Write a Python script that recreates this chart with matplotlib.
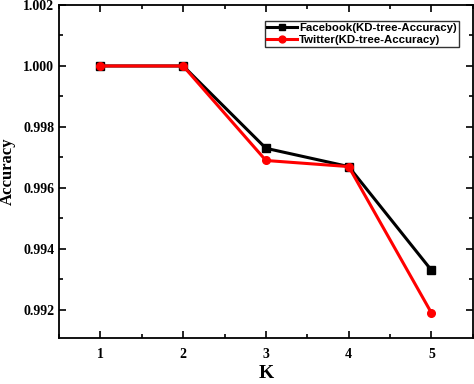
import matplotlib
matplotlib.use("Agg")
import matplotlib.pyplot as plt
from matplotlib.ticker import MultipleLocator

K = [1, 2, 3, 4, 5]
facebook = [1.0000, 1.0000, 0.9973, 0.9967, 0.9933]
twitter = [1.0000, 1.0000, 0.9969, 0.9967, 0.9919]
yticks = [0.992, 0.994, 0.996, 0.998, 1.000, 1.002]

fig = plt.figure(figsize=(4.74, 3.84), dpi=100)
ax = fig.add_axes([0.1245, 0.12, 0.873, 0.867])

ax.plot(K, facebook, color="black", lw=2.2, marker="s", ms=5.5,
        label="Facebook(KD-tree-Accuracy)")
ax.plot(K, twitter, color="#ff0000", lw=2.2, marker="o", ms=5.5,
        label="Twitter(KD-tree-Accuracy)")

ax.set_xlim(0.5, 5.5)
ax.set_ylim(0.99108, 1.002)
ax.set_xticks(K)
ax.set_yticks(yticks)
ax.set_yticklabels([f"{v:.3f}" for v in yticks])
ax.xaxis.set_minor_locator(MultipleLocator(0.5))
ax.yaxis.set_minor_locator(MultipleLocator(0.001))
ax.tick_params(which="both", direction="in", top=True, right=True, width=1.2)
ax.tick_params(which="major", length=5)
ax.tick_params(which="minor", length=3)
for s in ax.spines.values():
    s.set_linewidth(1.3)

for lab in ax.get_xticklabels() + ax.get_yticklabels():
    lab.set_fontfamily("Liberation Serif")
    lab.set_fontweight("bold")
    lab.set_fontsize(10)
ax.tick_params(axis="x", pad=7)

ax.set_xlabel("K", fontfamily="Liberation Serif", fontweight="bold", fontsize=14, labelpad=3)
ax.set_ylabel("Accuracy", fontfamily="Liberation Serif", fontweight="bold", fontsize=12, labelpad=5)

leg = ax.legend(loc="upper right", bbox_to_anchor=(0.973, 0.96),
                prop={"family": "Liberation Sans", "weight": "bold", "size": 8.2},
                frameon=True, fancybox=False, borderpad=0.2, labelspacing=0.15,
                handlelength=2.6, handletextpad=0.2, borderaxespad=0.2, markerscale=0.9)
leg.get_frame().set_edgecolor("black")
leg.get_frame().set_linewidth(1.0)

fig.savefig("out.png", dpi=100)
